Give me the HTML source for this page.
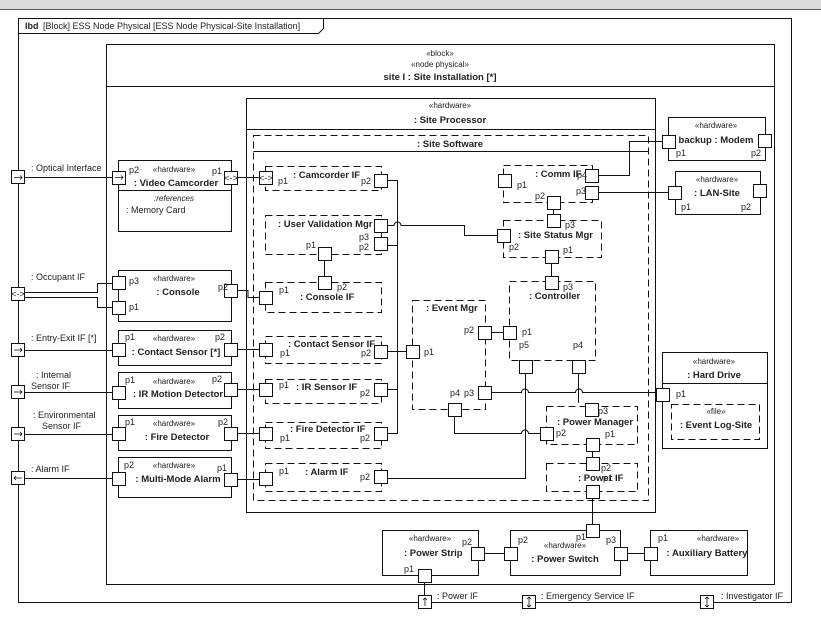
<!DOCTYPE html>
<html><head><meta charset="utf-8"><style>
html,body{margin:0;padding:0;background:#fff}
svg{display:block}
text{font-family:"Liberation Sans",sans-serif;fill:#222;font-size:9px}
.b{font-weight:bold;font-size:9.5px}
.s{font-size:8px}
.m{text-anchor:middle}
</style></head><body>
<svg width="821" height="621" viewBox="0 0 821 621" xmlns="http://www.w3.org/2000/svg">
<rect x="0" y="0" width="821" height="9" fill="#dcdcdc"/>
<line x1="0" y1="9.5" x2="821" y2="9.5" stroke="#555" stroke-width="1"/>
<g fill="none" stroke="#111" stroke-width="1">
<!-- frame -->
<rect x="18.5" y="18.5" width="773" height="584"/>
<path d="M18.5 33.5 H318.5 L323.5 28.5 V18.5"/>
<!-- site installation -->
<rect x="106.5" y="44.5" width="668" height="540"/>
<line x1="106.5" y1="86.5" x2="774.5" y2="86.5"/>
<!-- site processor -->
<rect x="246.5" y="98.5" width="409" height="414"/>
<line x1="246.5" y1="129.5" x2="655.5" y2="129.5"/>
<!-- site software -->
<g stroke-dasharray="7,4">
<rect x="253.5" y="135.5" width="395" height="365"/>
<rect x="265.5" y="166.5" width="116" height="24"/>
<rect x="265.5" y="215.5" width="116" height="39"/>
<rect x="265.5" y="282.5" width="116" height="30"/>
<rect x="265.5" y="336.5" width="116" height="27"/>
<rect x="265.5" y="379.5" width="116" height="24"/>
<rect x="265.5" y="422.5" width="116" height="26"/>
<rect x="265.5" y="463.5" width="116" height="28"/>
<rect x="412.5" y="300.5" width="73" height="109"/>
<rect x="509.5" y="281.5" width="86" height="79"/>
<rect x="503.5" y="165.5" width="89" height="37"/>
<rect x="503.5" y="220.5" width="98" height="37"/>
<rect x="546.5" y="406.5" width="91" height="38"/>
<rect x="546.5" y="463.5" width="91" height="28"/>
<rect x="671.5" y="404.5" width="88" height="35"/>
</g>
<line x1="253.5" y1="151.5" x2="648.5" y2="151.5"/>
<!-- hardware blocks -->
<rect x="118.5" y="160.5" width="113" height="71"/>
<line x1="118.5" y1="190.5" x2="231.5" y2="190.5"/>
<rect x="118.5" y="270.5" width="113" height="51"/>
<rect x="118.5" y="330.5" width="113" height="35"/>
<rect x="118.5" y="372.5" width="113" height="36"/>
<rect x="118.5" y="415.5" width="113" height="35"/>
<rect x="118.5" y="457.5" width="113" height="40"/>
<rect x="668.5" y="117.5" width="97" height="43"/>
<rect x="675.5" y="171.5" width="85" height="43"/>
<rect x="662.5" y="352.5" width="105" height="96"/>
<line x1="662.5" y1="383.5" x2="767.5" y2="383.5"/>
<rect x="382.5" y="530.5" width="96" height="45"/>
<rect x="510.5" y="530.5" width="110" height="45"/>
<rect x="650.5" y="530.5" width="97" height="45"/>
<!-- connectors -->
<path d="M25 177.5 H112"/>
<path d="M237 177.5 H259"/>
<path d="M25 292.5 H97.5 V283.5 H112 M25 297.5 H97.5 V307.5 H112"/>
<path d="M237 290.5 H248 V297.5 H259"/>
<path d="M25 350.5 H112 M237 349.5 H259"/>
<path d="M25 392.5 H112 M237 389.5 H259"/>
<path d="M25 434.5 H112 M237 433.5 H259"/>
<path d="M25 478.5 H112 M237 479.5 H259"/>
<path d="M387 180.5 H397.5 V433.5 H387 M387 245.5 H397.5 M387 389.5 H397.5 M387 351.5 H406"/>
<path d="M387 225.5 H394 A3.5 3.5 0 0 1 401 225.5 H464.5 V235.5 H497"/>
<path d="M324.5 260 V276"/>
<path d="M598 175.5 H629.5 V141.5 H662"/>
<path d="M598 192.5 H668"/>
<path d="M553.5 209 V214 M551.5 263 V276"/>
<path d="M491 332.5 H503"/>
<path d="M491 392.5 H521.5 A3.5 3.5 0 0 1 528.5 392.5 H575.5 A3.5 3.5 0 0 1 582.5 392.5 H656"/>
<path d="M525.5 373 V478.5 H387"/>
<path d="M578.5 373 V403"/>
<path d="M454.5 416 V433.5 H521.5 A3.5 3.5 0 0 1 528.5 433.5 H540"/>
<path d="M592.5 451 V457 M592.5 498 V524"/>
<path d="M484 553.5 H504 M627 553.5 H644"/>
<path d="M424.5 582 V595"/>
</g>
<!-- ports -->
<g fill="#fff" stroke="#111" stroke-width="1">
<rect x="11.5" y="170.5" width="13" height="13"/>
<rect x="11.5" y="287.5" width="13" height="13"/>
<rect x="11.5" y="343.5" width="13" height="13"/>
<rect x="11.5" y="385.5" width="13" height="13"/>
<rect x="11.5" y="427.5" width="13" height="13"/>
<rect x="11.5" y="471.5" width="13" height="13"/>
<rect x="112.5" y="171.5" width="13" height="13"/>
<rect x="224.5" y="171.5" width="13" height="13"/>
<rect x="112.5" y="276.5" width="13" height="13"/>
<rect x="112.5" y="301.5" width="13" height="13"/>
<rect x="224.5" y="284.5" width="13" height="13"/>
<rect x="112.5" y="343.5" width="13" height="13"/>
<rect x="224.5" y="343.5" width="13" height="13"/>
<rect x="112.5" y="386.5" width="13" height="13"/>
<rect x="224.5" y="383.5" width="13" height="13"/>
<rect x="112.5" y="427.5" width="13" height="13"/>
<rect x="224.5" y="427.5" width="13" height="13"/>
<rect x="112.5" y="472.5" width="13" height="13"/>
<rect x="224.5" y="473.5" width="13" height="13"/>
<rect x="259.5" y="171.5" width="13" height="13"/>
<rect x="374.5" y="174.5" width="13" height="13"/>
<rect x="374.5" y="219.5" width="13" height="13"/>
<rect x="374.5" y="237.5" width="13" height="13"/>
<rect x="318.5" y="247.5" width="13" height="13"/>
<rect x="318.5" y="276.5" width="13" height="13"/>
<rect x="259.5" y="291.5" width="13" height="13"/>
<rect x="259.5" y="343.5" width="13" height="13"/>
<rect x="374.5" y="345.5" width="13" height="13"/>
<rect x="259.5" y="383.5" width="13" height="13"/>
<rect x="374.5" y="383.5" width="13" height="13"/>
<rect x="259.5" y="427.5" width="13" height="13"/>
<rect x="374.5" y="427.5" width="13" height="13"/>
<rect x="259.5" y="472.5" width="13" height="13"/>
<rect x="374.5" y="470.5" width="13" height="13"/>
<rect x="406.5" y="345.5" width="13" height="13"/>
<rect x="478.5" y="326.5" width="13" height="13"/>
<rect x="478.5" y="386.5" width="13" height="13"/>
<rect x="448.5" y="403.5" width="13" height="13"/>
<rect x="545.5" y="276.5" width="13" height="13"/>
<rect x="503.5" y="326.5" width="13" height="13"/>
<rect x="519.5" y="360.5" width="13" height="13"/>
<rect x="572.5" y="360.5" width="13" height="13"/>
<rect x="498.5" y="174.5" width="13" height="13"/>
<rect x="585.5" y="169.5" width="13" height="13"/>
<rect x="585.5" y="186.5" width="13" height="13"/>
<rect x="547.5" y="196.5" width="13" height="13"/>
<rect x="547.5" y="214.5" width="13" height="13"/>
<rect x="497.5" y="229.5" width="13" height="13"/>
<rect x="545.5" y="250.5" width="13" height="13"/>
<rect x="585.5" y="403.5" width="13" height="13"/>
<rect x="540.5" y="427.5" width="13" height="13"/>
<rect x="586.5" y="438.5" width="13" height="13"/>
<rect x="586.5" y="457.5" width="13" height="13"/>
<rect x="586.5" y="485.5" width="13" height="13"/>
<rect x="662.5" y="135.5" width="13" height="13"/>
<rect x="758.5" y="134.5" width="13" height="13"/>
<rect x="668.5" y="186.5" width="13" height="13"/>
<rect x="753.5" y="184.5" width="13" height="13"/>
<rect x="656.5" y="388.5" width="13" height="13"/>
<rect x="471.5" y="547.5" width="13" height="13"/>
<rect x="418.5" y="569.5" width="13" height="13"/>
<rect x="504.5" y="547.5" width="13" height="13"/>
<rect x="586.5" y="524.5" width="13" height="13"/>
<rect x="614.5" y="547.5" width="13" height="13"/>
<rect x="644.5" y="547.5" width="13" height="13"/>
<rect x="418.5" y="595.5" width="13" height="13"/>
<rect x="522.5" y="595.5" width="13" height="13"/>
<rect x="700.5" y="595.5" width="13" height="13"/>
</g>
<!-- port glyphs -->
<g fill="none" stroke="#111" stroke-width="0.8">
<path d="M14 177.5 H22 M20 175.5 L22 177.5 L20 179.5"/>
<path d="M115 177.5 H123 M121 175.5 L123 177.5 L121 179.5"/>
<path d="M14 350 H22 M20 348 L22 350 L20 352"/>
<path d="M14 392 H22 M20 390 L22 392 L20 394"/>
<path d="M14 434 H22 M20 432 L22 434 L20 436"/>
<path d="M22 478 H14 M16 476 L14 478 L16 480"/>
<path d="M425 606 V598 M423 600 L425 598 L427 600"/>
<path d="M529 597 V607 M527 599 L529 597 L531 599 M527 605 L529 607 L531 605"/>
<path d="M707 597 V607 M705 599 L707 597 L709 599 M705 605 L707 607 L709 605"/>
</g>
<g font-size="7" text-anchor="middle">
<text x="18" y="297" font-size="7">&lt;-&gt;</text>
<text x="231" y="181" font-size="7">&lt;-&gt;</text>
<text x="266" y="181" font-size="7">&lt;-&gt;</text>
</g>
<!-- texts -->
<text x="25" y="29" class="b" style="font-size:9px">lbd</text><text x="43" y="29">[Block] ESS Node Physical [ESS Node Physical-Site Installation]</text>
<text x="440" y="56" class="m s">«block»</text>
<text x="440" y="67" class="m s">«node physical»</text>
<text x="440" y="80" class="m b">site I : Site Installation [*]</text>
<text x="450" y="108" class="m s">«hardware»</text>
<text x="450" y="123" class="m b">: Site Processor</text>
<text x="450" y="147" class="m b">: Site Software</text>
<text x="31" y="171">: Optical Interface</text>
<text x="31" y="280">: Occupant IF</text>
<text x="31" y="341">: Entry-Exit IF [*]</text>
<text x="36" y="378">: Internal</text><text x="31" y="389">Sensor IF</text>
<text x="33" y="418">: Environmental</text><text x="42" y="429">Sensor IF</text>
<text x="31" y="472">: Alarm IF</text>
<text x="129" y="173">p2</text><text x="174" y="172" class="m s">«hardware»</text><text x="212" y="174">p1</text>
<text x="176" y="186" class="m b">: Video Camcorder</text>
<text x="174" y="201" class="m s" font-style="italic">:references</text>
<text x="126" y="213">: Memory Card</text>
<text x="129" y="284">p3</text><text x="174" y="281" class="m s">«hardware»</text><text x="218" y="290">p2</text>
<text x="178" y="295" class="m b">: Console</text><text x="129" y="310">p1</text>
<text x="125" y="340">p1</text><text x="174" y="341" class="m s">«hardware»</text><text x="215" y="340">p2</text>
<text x="176" y="355" class="m b">: Contact Sensor [*]</text>
<text x="125" y="383">p1</text><text x="174" y="384" class="m s">«hardware»</text><text x="212" y="382">p2</text>
<text x="178" y="397" class="m b">: IR Motion Detector</text>
<text x="125" y="425">p1</text><text x="174" y="426" class="m s">«hardware»</text><text x="218" y="425">p2</text>
<text x="177" y="440" class="m b">: Fire Detector</text>
<text x="124" y="468">p2</text><text x="174" y="468" class="m s">«hardware»</text><text x="217" y="471">p1</text>
<text x="178" y="482" class="m b">: Multi-Mode Alarm</text>
<text x="278" y="184">p1</text><text x="293" y="178" class="b">: Camcorder IF</text><text x="361" y="184">p2</text>
<text x="278" y="227" class="b">: User Validation Mgr</text><text x="359" y="240">p3</text><text x="359" y="250">p2</text><text x="306" y="248">p1</text>
<text x="279" y="293">p1</text><text x="337" y="290">p2</text><text x="300" y="300" class="b">: Console IF</text>
<text x="288" y="347" class="b">: Contact Sensor IF</text><text x="280" y="356">p1</text><text x="361" y="356">p2</text>
<text x="279" y="388">p1</text><text x="296" y="390" class="b">: IR Sensor IF</text><text x="360" y="396">p2</text>
<text x="290" y="432" class="b">: Fire Detector IF</text><text x="280" y="441">p1</text><text x="360" y="441">p2</text>
<text x="279" y="474">p1</text><text x="305" y="475" class="b">: Alarm IF</text><text x="360" y="480">p2</text>
<text x="426" y="311" class="b">: Event Mgr</text><text x="464" y="333">p2</text><text x="424" y="355">p1</text><text x="450" y="396">p4</text><text x="464" y="396">p3</text>
<text x="529" y="299" class="b">: Controller</text><text x="522" y="335">p1</text><text x="519" y="348">p5</text><text x="573" y="348">p4</text><text x="563" y="290">p3</text>
<text x="535" y="177" class="b">: Comm IF</text><text x="577" y="178">p4</text><text x="576" y="194">p3</text><text x="517" y="188">p1</text><text x="535" y="199">p2</text>
<text x="518" y="238" class="b">: Site Status Mgr</text><text x="565" y="228">p3</text><text x="509" y="250">p2</text><text x="563" y="253">p1</text>
<text x="557" y="425" class="b">: Power Manager</text><text x="598" y="414">p3</text><text x="556" y="436">p2</text><text x="605" y="437">p1</text>
<text x="578" y="481" class="b">: Power IF</text><text x="601" y="471">p2</text><text x="603" y="481">p1</text>
<text x="716" y="128" class="m s">«hardware»</text><text x="716" y="143" class="m b">backup : Modem</text><text x="676" y="156">p1</text><text x="751" y="156">p2</text>
<text x="717" y="182" class="m s">«hardware»</text><text x="717" y="196" class="m b">: LAN-Site</text><text x="681" y="210">p1</text><text x="741" y="210">p2</text>
<text x="714" y="364" class="m s">«hardware»</text><text x="714" y="378" class="m b">: Hard Drive</text><text x="676" y="397">p1</text>
<text x="716" y="414" class="m s">«file»</text><text x="716" y="428" class="m b">: Event Log-Site</text>
<text x="430" y="541" class="m s">«hardware»</text><text x="404" y="556" class="b">: Power Strip</text><text x="462" y="545">p2</text><text x="404" y="572">p1</text>
<text x="565" y="548" class="m s">«hardware»</text><text x="565" y="562" class="m b">: Power Switch</text><text x="518" y="543">p2</text><text x="576" y="540">p1</text><text x="606" y="543">p3</text>
<text x="718" y="541" class="m s">«hardware»</text><text x="707" y="556" class="m b">: Auxiliary Battery</text><text x="658" y="541">p1</text>
<text x="437" y="599">: Power IF</text><text x="541" y="599">: Emergency Service IF</text><text x="721" y="599">: Investigator IF</text>
</svg>
</body></html>
